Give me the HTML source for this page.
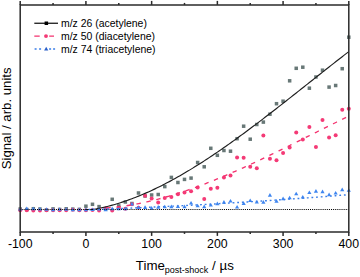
<!DOCTYPE html>
<html><head><meta charset="utf-8"><style>
html,body{margin:0;padding:0;background:#fff;width:360px;height:277px;overflow:hidden}
svg{display:block;font-family:"Liberation Sans",sans-serif}
</style></head><body><svg width="360" height="277" viewBox="0 0 360 277" font-family="Liberation Sans, sans-serif" fill="#000"><rect x="18.45" y="207.28" width="3.5" height="3.5" fill="#687877"/><rect x="25.02" y="207.80" width="3.5" height="3.5" fill="#687877"/><rect x="31.59" y="206.97" width="3.5" height="3.5" fill="#687877"/><rect x="38.17" y="207.28" width="3.5" height="3.5" fill="#687877"/><rect x="44.74" y="208.12" width="3.5" height="3.5" fill="#687877"/><rect x="51.31" y="207.16" width="3.5" height="3.5" fill="#687877"/><rect x="57.88" y="207.68" width="3.5" height="3.5" fill="#687877"/><rect x="64.45" y="207.04" width="3.5" height="3.5" fill="#687877"/><rect x="71.03" y="207.37" width="3.5" height="3.5" fill="#687877"/><rect x="77.60" y="207.61" width="3.5" height="3.5" fill="#687877"/><rect x="84.17" y="204.45" width="3.5" height="3.5" fill="#687877"/><rect x="90.74" y="202.55" width="3.5" height="3.5" fill="#687877"/><rect x="97.31" y="204.85" width="3.5" height="3.5" fill="#687877"/><rect x="103.89" y="207.05" width="3.5" height="3.5" fill="#687877"/><rect x="110.46" y="197.55" width="3.5" height="3.5" fill="#687877"/><rect x="117.03" y="204.15" width="3.5" height="3.5" fill="#687877"/><rect x="123.60" y="200.25" width="3.5" height="3.5" fill="#687877"/><rect x="130.17" y="201.75" width="3.5" height="3.5" fill="#687877"/><rect x="136.75" y="191.25" width="3.5" height="3.5" fill="#687877"/><rect x="143.32" y="194.25" width="3.5" height="3.5" fill="#687877"/><rect x="149.89" y="193.25" width="3.5" height="3.5" fill="#687877"/><rect x="156.46" y="192.75" width="3.5" height="3.5" fill="#687877"/><rect x="163.03" y="184.85" width="3.5" height="3.5" fill="#687877"/><rect x="169.61" y="175.65" width="3.5" height="3.5" fill="#687877"/><rect x="176.18" y="180.75" width="3.5" height="3.5" fill="#687877"/><rect x="182.75" y="177.65" width="3.5" height="3.5" fill="#687877"/><rect x="189.32" y="176.35" width="3.5" height="3.5" fill="#687877"/><rect x="195.89" y="160.75" width="3.5" height="3.5" fill="#687877"/><rect x="202.47" y="165.05" width="3.5" height="3.5" fill="#687877"/><rect x="209.04" y="146.55" width="3.5" height="3.5" fill="#687877"/><rect x="215.61" y="153.55" width="3.5" height="3.5" fill="#687877"/><rect x="222.18" y="148.75" width="3.5" height="3.5" fill="#687877"/><rect x="228.75" y="149.45" width="3.5" height="3.5" fill="#687877"/><rect x="235.33" y="136.95" width="3.5" height="3.5" fill="#687877"/><rect x="241.90" y="124.45" width="3.5" height="3.5" fill="#687877"/><rect x="248.47" y="137.45" width="3.5" height="3.5" fill="#687877"/><rect x="255.04" y="122.75" width="3.5" height="3.5" fill="#687877"/><rect x="261.61" y="120.35" width="3.5" height="3.5" fill="#687877"/><rect x="268.19" y="112.45" width="3.5" height="3.5" fill="#687877"/><rect x="274.76" y="101.95" width="3.5" height="3.5" fill="#687877"/><rect x="281.33" y="99.45" width="3.5" height="3.5" fill="#687877"/><rect x="287.90" y="79.05" width="3.5" height="3.5" fill="#687877"/><rect x="294.47" y="66.55" width="3.5" height="3.5" fill="#687877"/><rect x="301.05" y="65.45" width="3.5" height="3.5" fill="#687877"/><rect x="307.62" y="86.45" width="3.5" height="3.5" fill="#687877"/><rect x="314.19" y="75.25" width="3.5" height="3.5" fill="#687877"/><rect x="320.76" y="68.45" width="3.5" height="3.5" fill="#687877"/><rect x="327.33" y="85.35" width="3.5" height="3.5" fill="#687877"/><rect x="333.91" y="83.75" width="3.5" height="3.5" fill="#687877"/><rect x="340.48" y="66.95" width="3.5" height="3.5" fill="#687877"/><rect x="347.05" y="35.45" width="3.5" height="3.5" fill="#687877"/><circle cx="20.20" cy="210.18" r="2.0" fill="#f43a76"/><circle cx="26.77" cy="210.24" r="2.0" fill="#f43a76"/><circle cx="33.34" cy="210.39" r="2.0" fill="#f43a76"/><circle cx="39.92" cy="210.50" r="2.0" fill="#f43a76"/><circle cx="46.49" cy="210.13" r="2.0" fill="#f43a76"/><circle cx="53.06" cy="210.24" r="2.0" fill="#f43a76"/><circle cx="59.63" cy="210.32" r="2.0" fill="#f43a76"/><circle cx="66.20" cy="210.33" r="2.0" fill="#f43a76"/><circle cx="72.78" cy="209.82" r="2.0" fill="#f43a76"/><circle cx="79.35" cy="210.30" r="2.0" fill="#f43a76"/><circle cx="85.92" cy="210.30" r="2.0" fill="#f43a76"/><circle cx="92.49" cy="210.08" r="2.0" fill="#f43a76"/><circle cx="99.06" cy="210.60" r="2.0" fill="#f43a76"/><circle cx="105.64" cy="208.60" r="2.0" fill="#f43a76"/><circle cx="112.21" cy="210.42" r="2.0" fill="#f43a76"/><circle cx="118.78" cy="208.20" r="2.0" fill="#f43a76"/><circle cx="125.35" cy="208.80" r="2.0" fill="#f43a76"/><circle cx="131.92" cy="204.30" r="2.0" fill="#f43a76"/><circle cx="138.50" cy="207.80" r="2.0" fill="#f43a76"/><circle cx="145.07" cy="195.80" r="2.0" fill="#f43a76"/><circle cx="151.64" cy="198.40" r="2.0" fill="#f43a76"/><circle cx="158.21" cy="202.40" r="2.0" fill="#f43a76"/><circle cx="164.78" cy="198.00" r="2.0" fill="#f43a76"/><circle cx="171.36" cy="196.90" r="2.0" fill="#f43a76"/><circle cx="177.93" cy="194.20" r="2.0" fill="#f43a76"/><circle cx="184.50" cy="192.40" r="2.0" fill="#f43a76"/><circle cx="191.07" cy="191.20" r="2.0" fill="#f43a76"/><circle cx="197.64" cy="187.50" r="2.0" fill="#f43a76"/><circle cx="204.22" cy="198.90" r="2.0" fill="#f43a76"/><circle cx="210.79" cy="188.80" r="2.0" fill="#f43a76"/><circle cx="217.36" cy="187.80" r="2.0" fill="#f43a76"/><circle cx="223.93" cy="177.50" r="2.0" fill="#f43a76"/><circle cx="230.50" cy="175.40" r="2.0" fill="#f43a76"/><circle cx="237.08" cy="157.60" r="2.0" fill="#f43a76"/><circle cx="243.65" cy="157.80" r="2.0" fill="#f43a76"/><circle cx="250.22" cy="166.70" r="2.0" fill="#f43a76"/><circle cx="256.79" cy="168.30" r="2.0" fill="#f43a76"/><circle cx="263.36" cy="135.60" r="2.0" fill="#f43a76"/><circle cx="269.94" cy="158.70" r="2.0" fill="#f43a76"/><circle cx="276.51" cy="160.30" r="2.0" fill="#f43a76"/><circle cx="283.08" cy="153.00" r="2.0" fill="#f43a76"/><circle cx="289.65" cy="147.50" r="2.0" fill="#f43a76"/><circle cx="296.22" cy="132.40" r="2.0" fill="#f43a76"/><circle cx="302.80" cy="139.60" r="2.0" fill="#f43a76"/><circle cx="309.37" cy="127.10" r="2.0" fill="#f43a76"/><circle cx="315.94" cy="147.00" r="2.0" fill="#f43a76"/><circle cx="322.51" cy="120.00" r="2.0" fill="#f43a76"/><circle cx="329.08" cy="137.50" r="2.0" fill="#f43a76"/><circle cx="335.66" cy="135.30" r="2.0" fill="#f43a76"/><circle cx="342.23" cy="109.70" r="2.0" fill="#f43a76"/><circle cx="348.80" cy="108.70" r="2.0" fill="#f43a76"/><path d="M18.10,210.48 L22.30,210.48 L20.20,206.88 Z" fill="#3f86f0"/><path d="M24.67,210.09 L28.87,210.09 L26.77,206.49 Z" fill="#3f86f0"/><path d="M31.24,210.34 L35.44,210.34 L33.34,206.74 Z" fill="#3f86f0"/><path d="M37.82,210.61 L42.02,210.61 L39.92,207.01 Z" fill="#3f86f0"/><path d="M44.39,210.83 L48.59,210.83 L46.49,207.23 Z" fill="#3f86f0"/><path d="M50.96,211.13 L55.16,211.13 L53.06,207.53 Z" fill="#3f86f0"/><path d="M57.53,210.87 L61.73,210.87 L59.63,207.27 Z" fill="#3f86f0"/><path d="M64.10,210.77 L68.30,210.77 L66.20,207.17 Z" fill="#3f86f0"/><path d="M70.68,211.13 L74.88,211.13 L72.78,207.53 Z" fill="#3f86f0"/><path d="M77.25,211.14 L81.45,211.14 L79.35,207.54 Z" fill="#3f86f0"/><path d="M83.82,211.20 L88.02,211.20 L85.92,207.60 Z" fill="#3f86f0"/><path d="M90.39,211.04 L94.59,211.04 L92.49,207.44 Z" fill="#3f86f0"/><path d="M96.96,210.58 L101.16,210.58 L99.06,206.98 Z" fill="#3f86f0"/><path d="M103.54,211.22 L107.74,211.22 L105.64,207.62 Z" fill="#3f86f0"/><path d="M110.11,210.13 L114.31,210.13 L112.21,206.53 Z" fill="#3f86f0"/><path d="M116.68,210.18 L120.88,210.18 L118.78,206.58 Z" fill="#3f86f0"/><path d="M123.25,210.28 L127.45,210.28 L125.35,206.68 Z" fill="#3f86f0"/><path d="M129.82,205.50 L134.02,205.50 L131.92,201.90 Z" fill="#3f86f0"/><path d="M136.40,209.10 L140.60,209.10 L138.50,205.50 Z" fill="#3f86f0"/><path d="M142.97,208.90 L147.17,208.90 L145.07,205.30 Z" fill="#3f86f0"/><path d="M149.54,209.70 L153.74,209.70 L151.64,206.10 Z" fill="#3f86f0"/><path d="M156.11,208.70 L160.31,208.70 L158.21,205.10 Z" fill="#3f86f0"/><path d="M162.68,208.30 L166.88,208.30 L164.78,204.70 Z" fill="#3f86f0"/><path d="M169.26,208.20 L173.46,208.20 L171.36,204.60 Z" fill="#3f86f0"/><path d="M175.83,208.10 L180.03,208.10 L177.93,204.50 Z" fill="#3f86f0"/><path d="M182.40,208.20 L186.60,208.20 L184.50,204.60 Z" fill="#3f86f0"/><path d="M188.97,204.50 L193.17,204.50 L191.07,200.90 Z" fill="#3f86f0"/><path d="M195.54,207.30 L199.74,207.30 L197.64,203.70 Z" fill="#3f86f0"/><path d="M202.12,208.20 L206.32,208.20 L204.22,204.60 Z" fill="#3f86f0"/><path d="M208.69,206.50 L212.89,206.50 L210.79,202.90 Z" fill="#3f86f0"/><path d="M215.26,205.20 L219.46,205.20 L217.36,201.60 Z" fill="#3f86f0"/><path d="M221.83,203.70 L226.03,203.70 L223.93,200.10 Z" fill="#3f86f0"/><path d="M228.40,202.50 L232.60,202.50 L230.50,198.90 Z" fill="#3f86f0"/><path d="M234.98,208.50 L239.18,208.50 L237.08,204.90 Z" fill="#3f86f0"/><path d="M241.55,204.90 L245.75,204.90 L243.65,201.30 Z" fill="#3f86f0"/><path d="M248.12,202.00 L252.32,202.00 L250.22,198.40 Z" fill="#3f86f0"/><path d="M254.69,203.50 L258.89,203.50 L256.79,199.90 Z" fill="#3f86f0"/><path d="M261.26,203.70 L265.46,203.70 L263.36,200.10 Z" fill="#3f86f0"/><path d="M267.84,196.70 L272.04,196.70 L269.94,193.10 Z" fill="#3f86f0"/><path d="M274.41,202.70 L278.61,202.70 L276.51,199.10 Z" fill="#3f86f0"/><path d="M280.98,200.20 L285.18,200.20 L283.08,196.60 Z" fill="#3f86f0"/><path d="M287.55,199.30 L291.75,199.30 L289.65,195.70 Z" fill="#3f86f0"/><path d="M294.12,195.30 L298.32,195.30 L296.22,191.70 Z" fill="#3f86f0"/><path d="M300.70,198.50 L304.90,198.50 L302.80,194.90 Z" fill="#3f86f0"/><path d="M307.27,194.00 L311.47,194.00 L309.37,190.40 Z" fill="#3f86f0"/><path d="M313.84,192.70 L318.04,192.70 L315.94,189.10 Z" fill="#3f86f0"/><path d="M320.41,193.20 L324.61,193.20 L322.51,189.60 Z" fill="#3f86f0"/><path d="M326.98,196.20 L331.18,196.20 L329.08,192.60 Z" fill="#3f86f0"/><path d="M333.56,194.50 L337.76,194.50 L335.66,190.90 Z" fill="#3f86f0"/><path d="M340.13,191.20 L344.33,191.20 L342.23,187.60 Z" fill="#3f86f0"/><path d="M346.70,191.80 L350.90,191.80 L348.80,188.20 Z" fill="#3f86f0"/><path d="M86.00,209.50 L87.64,209.50 L89.28,209.50 L90.93,209.50 L92.57,209.50 L94.21,209.26 L95.86,208.96 L97.50,208.65 L99.14,208.32 L100.78,207.97 L102.42,207.61 L104.07,207.24 L105.71,206.85 L107.35,206.44 L109.00,206.03 L110.64,205.59 L112.28,205.14 L113.92,204.68 L115.56,204.21 L117.21,203.72 L118.85,203.21 L120.49,202.70 L122.14,202.16 L123.78,201.62 L125.42,201.06 L127.06,200.49 L128.70,199.91 L130.35,199.31 L131.99,198.70 L133.63,198.08 L135.28,197.44 L136.92,196.79 L138.56,196.13 L140.20,195.46 L141.84,194.77 L143.49,194.07 L145.13,193.36 L146.77,192.64 L148.41,191.91 L150.06,191.16 L151.70,190.41 L153.34,189.64 L154.99,188.86 L156.63,188.07 L158.27,187.27 L159.91,186.46 L161.56,185.64 L163.20,184.80 L164.84,183.96 L166.48,183.11 L168.12,182.24 L169.77,181.37 L171.41,180.48 L173.05,179.59 L174.69,178.68 L176.34,177.77 L177.98,176.84 L179.62,175.91 L181.27,174.97 L182.91,174.02 L184.55,173.06 L186.19,172.09 L187.84,171.11 L189.48,170.12 L191.12,169.13 L192.76,168.12 L194.41,167.11 L196.05,166.09 L197.69,165.06 L199.33,164.02 L200.97,162.98 L202.62,161.92 L204.26,160.86 L205.90,159.79 L207.55,158.72 L209.19,157.64 L210.83,156.55 L212.47,155.45 L214.12,154.34 L215.76,153.23 L217.40,152.12 L219.04,150.99 L220.69,149.86 L222.33,148.72 L223.97,147.58 L225.61,146.43 L227.25,145.28 L228.90,144.12 L230.54,142.95 L232.18,141.78 L233.82,140.60 L235.47,139.42 L237.11,138.23 L238.75,137.03 L240.40,135.83 L242.04,134.63 L243.68,133.42 L245.32,132.21 L246.97,130.99 L248.61,129.77 L250.25,128.54 L251.89,127.31 L253.54,126.08 L255.18,124.84 L256.82,123.60 L258.46,122.35 L260.11,121.10 L261.75,119.85 L263.39,118.59 L265.03,117.33 L266.68,116.07 L268.32,114.80 L269.96,113.54 L271.60,112.26 L273.25,110.99 L274.89,109.71 L276.53,108.43 L278.17,107.15 L279.81,105.87 L281.46,104.58 L283.10,103.30 L284.74,102.01 L286.38,100.72 L288.03,99.42 L289.67,98.13 L291.31,96.84 L292.96,95.54 L294.60,94.24 L296.24,92.94 L297.88,91.64 L299.52,90.35 L301.17,89.04 L302.81,87.74 L304.45,86.44 L306.10,85.14 L307.74,83.84 L309.38,82.54 L311.02,81.24 L312.67,79.94 L314.31,78.63 L315.95,77.33 L317.59,76.03 L319.24,74.73 L320.88,73.44 L322.52,72.14 L324.16,70.84 L325.81,69.55 L327.45,68.25 L329.09,66.96 L330.73,65.67 L332.38,64.38 L334.02,63.10 L335.66,61.81 L337.30,60.53 L338.95,59.25 L340.59,57.97 L342.23,56.69 L343.87,55.42 L345.51,54.15 L347.16,52.88 L348.80,51.61" fill="none" stroke="#1e1e1e" stroke-width="1.15"/><path d="M20.2,209.5 L348.8,209.5" fill="none" stroke="#000" stroke-width="1.2" stroke-dasharray="1.05 1.05"/><path d="M100.00,208.36 L101.56,208.28 L103.11,208.20 L104.67,208.10 L106.22,208.00 L107.78,207.88 L109.33,207.76 L110.89,207.62 L112.44,207.47 L114.00,207.32 L115.55,207.15 L117.11,206.98 L118.66,206.79 L120.22,206.60 L121.77,206.40 L123.33,206.19 L124.88,205.96 L126.44,205.73 L127.99,205.49 L129.54,205.24 L131.10,204.98 L132.66,204.72 L134.21,204.44 L135.76,204.16 L137.32,203.86 L138.88,203.56 L140.43,203.25 L141.99,202.93 L143.54,202.60 L145.09,202.27 L146.65,201.92 L148.20,201.57 L149.76,201.21 L151.31,200.84 L152.87,200.47 L154.43,200.09 L155.98,199.69 L157.53,199.29 L159.09,198.89 L160.65,198.47 L162.20,198.05 L163.75,197.62 L165.31,197.19 L166.87,196.74 L168.42,196.29 L169.97,195.83 L171.53,195.37 L173.09,194.90 L174.64,194.42 L176.19,193.93 L177.75,193.44 L179.31,192.94 L180.86,192.44 L182.42,191.93 L183.97,191.41 L185.53,190.89 L187.08,190.36 L188.63,189.82 L190.19,189.28 L191.75,188.73 L193.30,188.17 L194.86,187.61 L196.41,187.05 L197.97,186.48 L199.52,185.90 L201.07,185.32 L202.63,184.73 L204.19,184.14 L205.74,183.54 L207.30,182.93 L208.85,182.32 L210.41,181.71 L211.96,181.09 L213.52,180.47 L215.07,179.84 L216.62,179.20 L218.18,178.57 L219.74,177.92 L221.29,177.27 L222.84,176.62 L224.40,175.97 L225.95,175.31 L227.51,174.64 L229.06,173.97 L230.62,173.30 L232.18,172.62 L233.73,171.94 L235.29,171.26 L236.84,170.57 L238.40,169.88 L239.95,169.18 L241.50,168.48 L243.06,167.78 L244.62,167.07 L246.17,166.36 L247.72,165.65 L249.28,164.94 L250.84,164.22 L252.39,163.50 L253.94,162.77 L255.50,162.04 L257.06,161.31 L258.61,160.58 L260.17,159.84 L261.72,159.11 L263.27,158.37 L264.83,157.62 L266.38,156.88 L267.94,156.13 L269.50,155.38 L271.05,154.63 L272.61,153.88 L274.16,153.12 L275.72,152.36 L277.27,151.61 L278.82,150.85 L280.38,150.08 L281.94,149.32 L283.49,148.55 L285.05,147.79 L286.60,147.02 L288.16,146.25 L289.71,145.48 L291.26,144.71 L292.82,143.94 L294.38,143.16 L295.93,142.39 L297.49,141.62 L299.04,140.84 L300.60,140.06 L302.15,139.29 L303.71,138.51 L305.26,137.73 L306.81,136.96 L308.37,136.18 L309.93,135.40 L311.48,134.62 L313.03,133.84 L314.59,133.07 L316.15,132.29 L317.70,131.51 L319.25,130.73 L320.81,129.96 L322.37,129.18 L323.92,128.40 L325.48,127.63 L327.03,126.85 L328.58,126.08 L330.14,125.31 L331.70,124.54 L333.25,123.77 L334.81,123.00 L336.36,122.23 L337.92,121.46 L339.47,120.69 L341.02,119.93 L342.58,119.17 L344.13,118.40 L345.69,117.64 L347.25,116.89 L348.80,116.13" fill="none" stroke="#f4326f" stroke-width="1.35" stroke-dasharray="4.4 5.74" stroke-dashoffset="3.8"/><path d="M86.00,209.50 L87.64,209.50 L89.28,209.50 L90.93,209.50 L92.57,209.50 L94.21,209.50 L95.86,209.46 L97.50,209.40 L99.14,209.34 L100.78,209.28 L102.42,209.21 L104.07,209.15 L105.71,209.09 L107.35,209.03 L109.00,208.96 L110.64,208.90 L112.28,208.84 L113.92,208.77 L115.56,208.71 L117.21,208.64 L118.85,208.58 L120.49,208.51 L122.14,208.44 L123.78,208.37 L125.42,208.31 L127.06,208.24 L128.70,208.17 L130.35,208.10 L131.99,208.03 L133.63,207.96 L135.28,207.89 L136.92,207.82 L138.56,207.75 L140.20,207.67 L141.84,207.60 L143.49,207.53 L145.13,207.46 L146.77,207.38 L148.41,207.31 L150.06,207.23 L151.70,207.16 L153.34,207.08 L154.99,207.00 L156.63,206.93 L158.27,206.85 L159.91,206.77 L161.56,206.69 L163.20,206.61 L164.84,206.54 L166.48,206.46 L168.12,206.38 L169.77,206.29 L171.41,206.21 L173.05,206.13 L174.69,206.05 L176.34,205.97 L177.98,205.88 L179.62,205.80 L181.27,205.72 L182.91,205.63 L184.55,205.55 L186.19,205.46 L187.84,205.38 L189.48,205.29 L191.12,205.20 L192.76,205.12 L194.41,205.03 L196.05,204.94 L197.69,204.85 L199.33,204.76 L200.97,204.67 L202.62,204.58 L204.26,204.49 L205.90,204.40 L207.55,204.31 L209.19,204.22 L210.83,204.12 L212.47,204.03 L214.12,203.94 L215.76,203.84 L217.40,203.75 L219.04,203.65 L220.69,203.56 L222.33,203.46 L223.97,203.37 L225.61,203.27 L227.25,203.17 L228.90,203.08 L230.54,202.98 L232.18,202.88 L233.82,202.78 L235.47,202.68 L237.11,202.58 L238.75,202.48 L240.40,202.38 L242.04,202.28 L243.68,202.17 L245.32,202.07 L246.97,201.97 L248.61,201.87 L250.25,201.76 L251.89,201.66 L253.54,201.55 L255.18,201.45 L256.82,201.34 L258.46,201.24 L260.11,201.13 L261.75,201.02 L263.39,200.91 L265.03,200.81 L266.68,200.70 L268.32,200.59 L269.96,200.48 L271.60,200.37 L273.25,200.26 L274.89,200.15 L276.53,200.04 L278.17,199.92 L279.81,199.81 L281.46,199.70 L283.10,199.58 L284.74,199.47 L286.38,199.36 L288.03,199.24 L289.67,199.13 L291.31,199.01 L292.96,198.89 L294.60,198.78 L296.24,198.66 L297.88,198.54 L299.52,198.43 L301.17,198.31 L302.81,198.19 L304.45,198.07 L306.10,197.95 L307.74,197.83 L309.38,197.71 L311.02,197.59 L312.67,197.46 L314.31,197.34 L315.95,197.22 L317.59,197.09 L319.24,196.97 L320.88,196.85 L322.52,196.72 L324.16,196.60 L325.81,196.47 L327.45,196.35 L329.09,196.22 L330.73,196.09 L332.38,195.96 L334.02,195.84 L335.66,195.71 L337.30,195.58 L338.95,195.45 L340.59,195.32 L342.23,195.19 L343.87,195.06 L345.51,194.93 L347.16,194.79 L348.80,194.66" fill="none" stroke="#3a7ee8" stroke-width="1.4" stroke-dasharray="1.8 2.85" stroke-dashoffset="2.05"/><path d="M20.2,4.9 L348.8,4.9 L348.8,231.9 L20.2,231.9 Z" fill="none" stroke="#2b2b2b" stroke-width="1.5"/><path d="M20.20,231.9 L20.20,235.9" stroke="#2b2b2b" stroke-width="1.5"/><path d="M20.20,4.9 L20.20,0.9000000000000004" stroke="#2b2b2b" stroke-width="1.5"/><path d="M53.06,231.9 L53.06,233.9" stroke="#2b2b2b" stroke-width="1.5"/><path d="M53.06,4.9 L53.06,2.9000000000000004" stroke="#2b2b2b" stroke-width="1.5"/><path d="M85.92,231.9 L85.92,235.9" stroke="#2b2b2b" stroke-width="1.5"/><path d="M85.92,4.9 L85.92,0.9000000000000004" stroke="#2b2b2b" stroke-width="1.5"/><path d="M118.78,231.9 L118.78,233.9" stroke="#2b2b2b" stroke-width="1.5"/><path d="M118.78,4.9 L118.78,2.9000000000000004" stroke="#2b2b2b" stroke-width="1.5"/><path d="M151.64,231.9 L151.64,235.9" stroke="#2b2b2b" stroke-width="1.5"/><path d="M151.64,4.9 L151.64,0.9000000000000004" stroke="#2b2b2b" stroke-width="1.5"/><path d="M184.50,231.9 L184.50,233.9" stroke="#2b2b2b" stroke-width="1.5"/><path d="M184.50,4.9 L184.50,2.9000000000000004" stroke="#2b2b2b" stroke-width="1.5"/><path d="M217.36,231.9 L217.36,235.9" stroke="#2b2b2b" stroke-width="1.5"/><path d="M217.36,4.9 L217.36,0.9000000000000004" stroke="#2b2b2b" stroke-width="1.5"/><path d="M250.22,231.9 L250.22,233.9" stroke="#2b2b2b" stroke-width="1.5"/><path d="M250.22,4.9 L250.22,2.9000000000000004" stroke="#2b2b2b" stroke-width="1.5"/><path d="M283.08,231.9 L283.08,235.9" stroke="#2b2b2b" stroke-width="1.5"/><path d="M283.08,4.9 L283.08,0.9000000000000004" stroke="#2b2b2b" stroke-width="1.5"/><path d="M315.94,231.9 L315.94,233.9" stroke="#2b2b2b" stroke-width="1.5"/><path d="M315.94,4.9 L315.94,2.9000000000000004" stroke="#2b2b2b" stroke-width="1.5"/><path d="M348.80,231.9 L348.80,235.9" stroke="#2b2b2b" stroke-width="1.5"/><path d="M348.80,4.9 L348.80,0.9000000000000004" stroke="#2b2b2b" stroke-width="1.5"/><text x="20.20" y="248.3" text-anchor="middle" font-size="12.3">-100</text><text x="85.92" y="248.3" text-anchor="middle" font-size="12.3">0</text><text x="151.64" y="248.3" text-anchor="middle" font-size="12.3">100</text><text x="217.36" y="248.3" text-anchor="middle" font-size="12.3">200</text><text x="283.08" y="248.3" text-anchor="middle" font-size="12.3">300</text><text x="348.80" y="248.3" text-anchor="middle" font-size="12.3">400</text><path d="M34.3,23.25 L58.0,23.25" stroke="#111" stroke-width="1.25"/><rect x="44.6" y="21.5" width="3.5" height="3.5" fill="#000"/><path d="M34.3,36.1 L39.7,36.1 M49.2,36.1 L54.0,36.1" stroke="#f4326f" stroke-width="1.4"/><circle cx="46.0" cy="36.1" r="1.95" fill="#f43a76"/><path d="M34.6,49.1 L36.6,49.1 M39.1,49.1 L41.1,49.1 M49.1,49.1 L51.1,49.1 M53.1,49.1 L55.1,49.1" stroke="#3a7ee8" stroke-width="1.5"/><path d="M44.1,50.4 L48.300000000000004,50.4 L46.2,46.800000000000004 Z" fill="#2a5fc8"/><text x="61.0" y="27.10" font-size="10.45">m/z 26 (acetylene)</text><text x="61.0" y="39.95" font-size="10.45">m/z 50 (diacetylene)</text><text x="61.0" y="52.95" font-size="10.45">m/z 74 (triacetylene)</text><text transform="translate(10.9,169.3) rotate(-90)" font-size="13.2">Signal / arb. units</text><text x="135.8" y="269.6" font-size="13.3">Time</text><text x="164.8" y="273.1" font-size="9">post-shock</text><text x="212.1" y="269.6" font-size="13.3">/ µs</text></svg></body></html>
